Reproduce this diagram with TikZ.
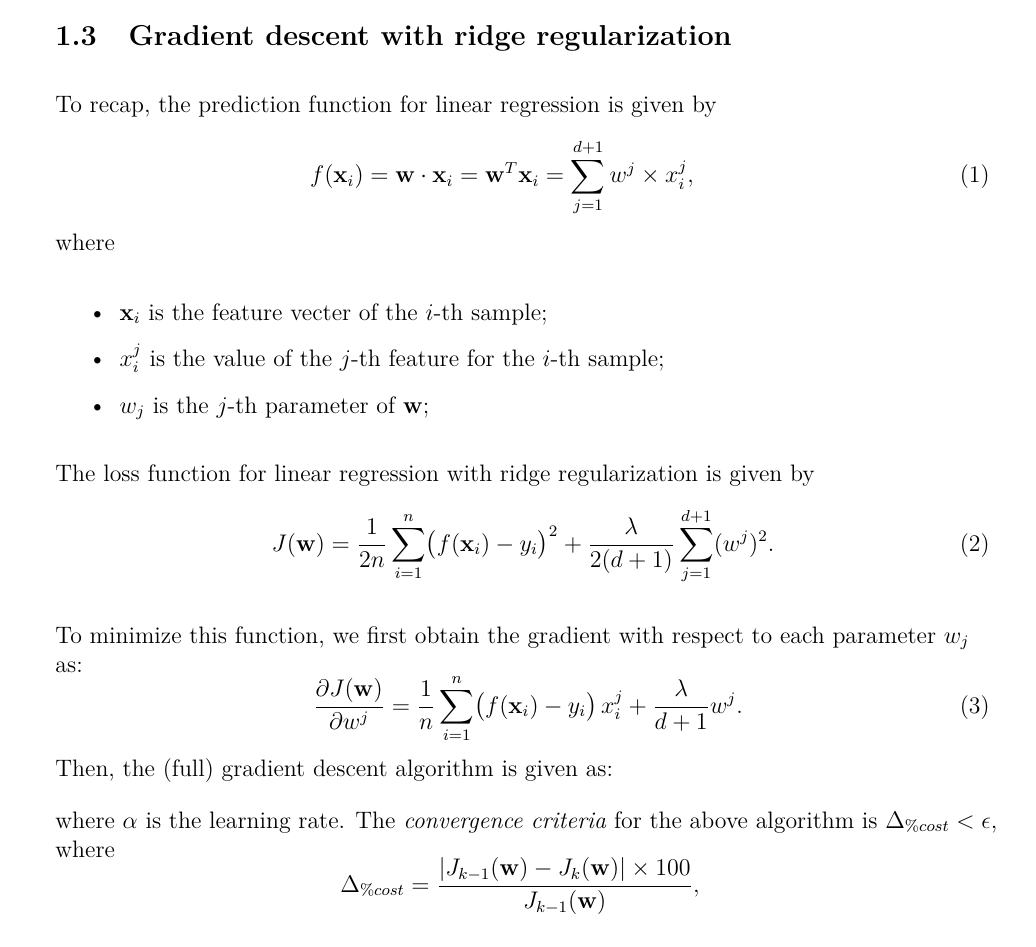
\documentclass[tikz,border=0pt]{standalone}
\usepackage{amsmath}
\begin{document}
\begin{tikzpicture}[x=0.5pt,y=-0.5pt,
  font=\fontsize{11.9}{14}\selectfont,
  txt/.style={anchor=base west,inner sep=0pt},
  eqn/.style={anchor=base,inner sep=0pt},
  num/.style={anchor=base east,inner sep=0pt}]
\useasboundingbox (0,0) rectangle (1036,946);
\node[txt,font=\fontsize{14.4}{17}\selectfont\bfseries] (h) at (55,46) {1.3\hspace{1.1em}Gradient descent with ridge regularization};
\node[txt] (p1) at (55,113) {To recap, the prediction function for linear regression is given by};
\node[eqn] (e1) at (502,183) {$\displaystyle f(\mathbf{x}_i)=\mathbf{w}\cdot\mathbf{x}_i=\mathbf{w}^T\mathbf{x}_i=\sum_{j=1}^{d+1} w^j\times x_i^j,$};
\node[num] (n1) at (990,183) {(1)};
\node[txt] (w1) at (55,250) {where};
\node[txt] (b1) at (88,320) {\textbullet\hspace{0.55em}$\mathbf{x}_i$ is the feature vecter of the $i$-th sample;};
\node[txt] (b2) at (88,366) {\textbullet\hspace{0.55em}$x_i^j$ is the value of the $j$-th feature for the $i$-th sample;};
\node[txt] (b3) at (88,413) {\textbullet\hspace{0.55em}$w_j$ is the $j$-th parameter of $\mathbf{w}$;};
\node[txt] (p2) at (55,481) {The loss function for linear regression with ridge regularization is given by};
\node[eqn] (e2) at (523,551) {$\displaystyle J(\mathbf{w})=\frac{1}{2n}\sum_{i=1}^{n}\bigl(f(\mathbf{x}_i)-y_i\bigr)^2+\frac{\lambda}{2(d+1)}\sum_{j=1}^{d+1}(w^j)^2.$};
\node[num] (n2) at (990,551) {(2)};
\node[txt] (p3) at (55,643) {To minimize this function, we first obtain the gradient with respect to each parameter $w_j$};
\node[txt] (p3b) at (55,672) {as:};
\node[eqn] (e3) at (528,713) {$\displaystyle \frac{\partial J(\mathbf{w})}{\partial w^j}=\frac{1}{n}\sum_{i=1}^{n}\bigl(f(\mathbf{x}_i)-y_i\bigr)\,x_i^j+\frac{\lambda}{d+1}w^j.$};
\node[num] (n3) at (990,713) {(3)};
\node[txt] (p4) at (55,776) {Then, the (full) gradient descent algorithm is given as:};
\node[txt] (p5) at (55,828) {where $\alpha$ is the learning rate. The \textit{convergence criteria} for the above algorithm is $\Delta_{\%cost}<\epsilon$,};
\node[txt] (p5b) at (55,857) {where};
\node[eqn] (e4) at (520,892) {$\displaystyle \Delta_{\%cost}=\frac{|J_{k-1}(\mathbf{w})-J_k(\mathbf{w})|\times 100}{J_{k-1}(\mathbf{w})},$};
\end{tikzpicture}
\end{document}
